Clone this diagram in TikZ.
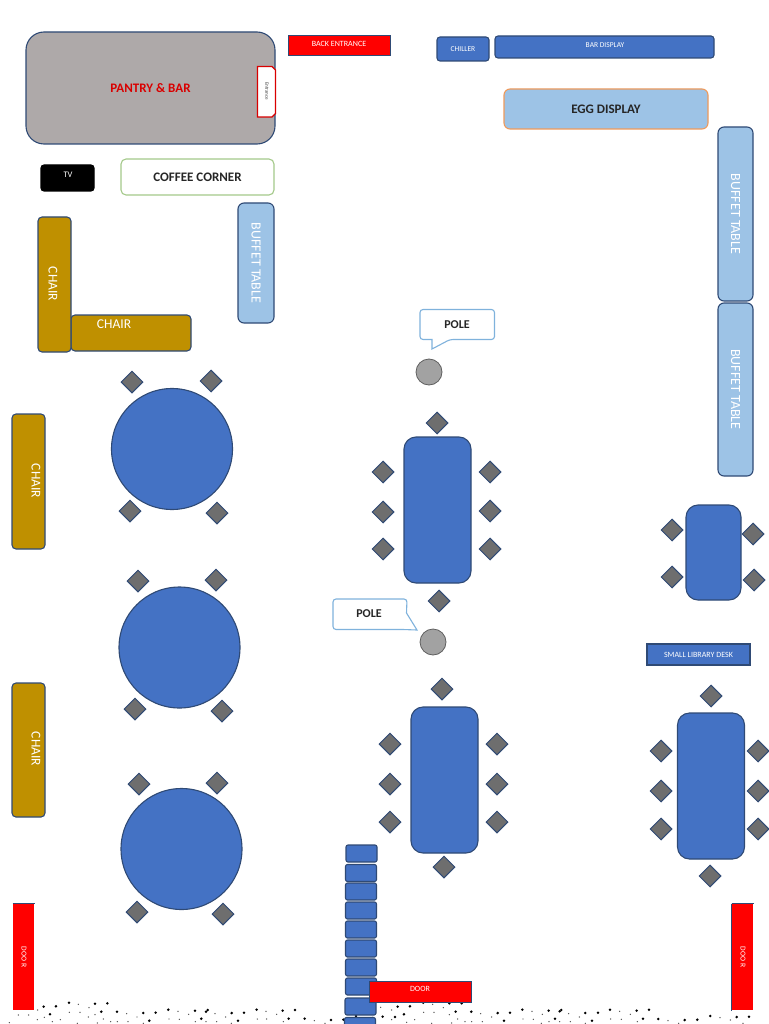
\documentclass[tikz,border=0pt]{standalone}
\usepackage{fontspec}
\setmainfont{Carlito}
\usetikzlibrary{positioning,shapes.geometric}
\definecolor{edgeblue}{HTML}{2F4A75}
\definecolor{tableblue}{HTML}{4472C4}
\definecolor{lightblue}{HTML}{9DC3E6}
\definecolor{callblue}{HTML}{7FB2DC}
\definecolor{chairgold}{HTML}{BF9000}
\definecolor{pantrygrey}{HTML}{AEA9A9}
\definecolor{seatgrey}{HTML}{6E6E6E}
\definecolor{poleedge}{HTML}{5F5F5F}
\definecolor{poleface}{HTML}{A2A2A2}
\definecolor{eggedge}{HTML}{EE9A5C}
\definecolor{coffeeedge}{HTML}{A4C98A}
\tikzset{
  box/.style={draw=edgeblue, line width=1.1pt, inner sep=0pt, align=center, rounded corners=3pt},
  bluebox/.style={box, fill=tableblue, text=white, font=\fontsize{7.5}{9}\selectfont},
  chairbox/.style={box, fill=chairgold, text=white, rounded corners=4pt},
  chairtext/.style={inner sep=0pt, text=white, font=\fontsize{13.5}{15}\selectfont},
  buffetbox/.style={box, fill=lightblue, text=white, rounded corners=6pt, font=\fontsize{14}{16}\selectfont},
  doorbox/.style={draw=edgeblue, line width=1pt, fill=red, inner sep=0pt},
  doortext/.style={inner sep=0pt, text=white, font=\fontsize{7.5}{9}\selectfont},
  roundtable/.style={circle, draw=edgeblue, line width=1.1pt, fill=tableblue, minimum size=121pt, inner sep=0pt},
  longtable/.style={box, fill=tableblue, rounded corners=12pt, minimum width=67pt, minimum height=146pt},
  stepbox/.style={box, fill=tableblue, rounded corners=2pt, minimum width=31pt, minimum height=17pt},
  seat/.style={diamond, draw=edgeblue, line width=1pt, fill=seatgrey, minimum size=22pt, inner sep=0pt},
  pole/.style={circle, draw=poleedge, line width=0.8pt, fill=poleface, minimum size=26pt, inner sep=0pt},
  callout/.style={draw=callblue, line width=1.1pt, fill=white, rounded corners=3pt},
  calltext/.style={font=\fontsize{12}{14}\selectfont\bfseries, text=black!85},
  bigspeck/.style={fill=black},
  smallspeck/.style={fill=black!70},
}
\begin{document}
\begin{tikzpicture}[x=1pt,y=-1pt]
\useasboundingbox (0,0) rectangle (768,1024);
% dots along the bottom edge
\begin{scope}[shift={(0,994)},x=0.3333pt,y=-0.3333pt]
\foreach \a/\b in {131/38,168/37,207/26,285/29,322/28,150/61,304/53,351/53,430/57,467/56,505/47,585/50,618/53,623/48,695/57,732/56,770/47,448/80,604/74,714/80}
  \fill[bigspeck] (\a,\b) circle (1.4pt);
\foreach \a/\b in {235/31,267/41,113/48,55/63,86/63,208/55,240/55,285/62,380/59,411/69,534/52,566/61,645/59,677/69,265/69,133/70,112/77,181/77,310/75,332/83,352/83,384/83,507/75,538/76,586/83,618/83,650/83,28/86,157/83,232/88,292/87,694/88,772/75,430/88}
  \fill[smallspeck] (\a,\b) circle (0.7pt);
\end{scope}
\begin{scope}[shift={(260,994)},x=0.3333pt,y=-0.3333pt]
\foreach \a/\b in {68/50,105/48,86/74,134/74,213/78,250/77,288/66,368/68,405/69,413/38,450/37,490/26,568/28,605/28,432/61,587/53,634/53,713/57,750/56,732/80}
  \fill[bigspeck] (\a,\b) circle (1.4pt);
\foreach \a/\b in {18/52,50/61,20/75,163/80,195/88,70/83,362/40,395/48,518/31,550/41,491/55,522/55,568/62,662/59,695/69,338/70,395/77,464/77,593/75,615/83,635/83,667/83,440/85,515/88,575/87}
  \fill[smallspeck] (\a,\b) circle (0.7pt);
\end{scope}
\begin{scope}[shift={(508,994)},x=0.3333pt,y=-0.3333pt]
\foreach \a/\b in {43/47,122/50,155/52,160/48,232/57,270/56,306/47,386/50,423/47,141/74,252/80,405/74,451/75,530/78,568/77,607/66,686/69,723/68}
  \fill[bigspeck] (\a,\b) circle (1.4pt);
\foreach \a/\b in {72/52,103/61,182/59,214/69,335/52,367/61,45/75,76/76,123/83,155/83,187/83,308/75,340/76,388/83,100/88,232/88,480/80,512/88,636/71,667/78,705/88}
  \fill[smallspeck] (\a,\b) circle (0.7pt);
\end{scope}
% pantry with its entrance
\node[box, fill=pantrygrey, rounded corners=18pt, minimum width=249pt, minimum height=112pt, text=red!85!black, font=\fontsize{13}{15}\selectfont\bfseries] (pantry) at (150.5,88) {PANTRY \& BAR};
\draw[draw=red!85!black, line width=1.1pt, fill=white] (257.5,66.5) -- (272,66.5) -- (275.5,70) -- (275.5,113.5) -- (272,117) -- (257.5,117) -- cycle;
\node[rotate=-90, inner sep=0pt, text=black!75, font=\fontsize{5}{6}\selectfont] (entrance) at (267,91) {Entrance};
% top row
\node[doorbox, minimum width=102pt, minimum height=20pt] (backdoor) at (339,45.5) {};
\node[doortext, font=\fontsize{8}{9}\selectfont] (backtext) at (339,44) {BACK ENTRANCE};
\node[bluebox, minimum width=52pt, minimum height=24pt] (chiller) at (463,49) {CHILLER};
\node[bluebox, minimum width=219pt, minimum height=22pt] (bardisplay) at (604.5,47) {};
\node[doortext] (bartext) at (605,45) {BAR DISPLAY};
\node[box, draw=eggedge, fill=lightblue, rounded corners=6pt, minimum width=204pt, minimum height=40pt, text=black!85, font=\fontsize{13}{15}\selectfont\bfseries] (egg) at (606,109) {EGG DISPLAY};
% buffet tables
\node[buffetbox, rotate=-90, minimum width=174pt, minimum height=35pt] (buffet1) at (735.5,214) {BUFFET TABLE};
\node[buffetbox, rotate=-90, minimum width=173pt, minimum height=35pt] (buffet2) at (735.5,389.5) {BUFFET TABLE};
\node[buffetbox, rotate=-90, minimum width=120pt, minimum height=36pt] (buffet3) at (256,263) {BUFFET TABLE};
% tv and coffee
\node[box, draw=black, fill=black, minimum width=53pt, minimum height=26pt] (tv) at (67.5,178) {};
\node[doortext, font=\fontsize{8.5}{10}\selectfont] (tvtext) at (68,175) {TV};
\node[box, draw=coffeeedge, fill=white, rounded corners=5pt, minimum width=153pt, minimum height=36pt, text=black!85, font=\fontsize{13}{15}\selectfont\bfseries] (coffee) at (197.5,177) {COFFEE CORNER};
% chairs
\node[chairbox, minimum width=120pt, minimum height=36pt] (chair1) at (131,333) {};
\node[chairtext] (chair1text) at (114,324.5) {CHAIR};
\node[chairbox, rotate=-90, minimum width=135pt, minimum height=33pt] (chair2) at (54.5,284.5) {};
\node[chairtext, rotate=-90] (chair2text) at (53,284) {CHAIR};
\node[chairbox, rotate=-90, minimum width=135pt, minimum height=33pt] (chair3) at (28.5,481.5) {};
\node[chairtext, rotate=-90] (chair3text) at (36,481) {CHAIR};
\node[chairbox, rotate=-90, minimum width=134pt, minimum height=33pt] (chair4) at (28.5,750) {};
\node[chairtext, rotate=-90] (chair4text) at (36,749) {CHAIR};
% round table 1
\node[roundtable] (rt1) at (172,449) {};
\node[seat] (rt1a) at (132,382) {};
\node[seat] (rt1b) at (211,381) {};
\node[seat] (rt1c) at (130,511) {};
\node[seat] (rt1d) at (217,513) {};
% round table 2
\node[roundtable] (rt2) at (179.5,647.5) {};
\node[seat] (rt2a) at (138,581) {};
\node[seat] (rt2b) at (216,580) {};
\node[seat] (rt2c) at (135,709) {};
\node[seat] (rt2d) at (222,711) {};
% round table 3
\node[roundtable] (rt3) at (181.5,849) {};
\node[seat] (rt3a) at (139,784) {};
\node[seat] (rt3b) at (217,783) {};
\node[seat] (rt3c) at (137,912) {};
\node[seat] (rt3d) at (223,914) {};
% long table 1
\node[longtable] (lt1) at (437.5,510) {};
\node[seat] (lt1a) at (437,423) {};
\node[seat] (lt1b) at (383,472) {};
\node[seat] (lt1c) at (383,512) {};
\node[seat] (lt1d) at (383,549) {};
\node[seat] (lt1e) at (490,472) {};
\node[seat] (lt1f) at (490,511) {};
\node[seat] (lt1g) at (490,549) {};
\node[seat] (lt1h) at (439,601) {};
% long table 2
\node[longtable] (lt2) at (444.5,780) {};
\node[seat] (lt2a) at (442,689) {};
\node[seat] (lt2b) at (390,744) {};
\node[seat] (lt2c) at (390,784) {};
\node[seat] (lt2d) at (390,822) {};
\node[seat] (lt2e) at (497,744) {};
\node[seat] (lt2f) at (497,784) {};
\node[seat] (lt2g) at (497,822) {};
\node[seat] (lt2h) at (444,867) {};
% long table 3
\node[longtable] (lt3) at (711,786) {};
\node[seat] (lt3a) at (711,696) {};
\node[seat] (lt3b) at (661,751) {};
\node[seat] (lt3c) at (661,791) {};
\node[seat] (lt3d) at (661,829) {};
\node[seat] (lt3e) at (758,751) {};
\node[seat] (lt3f) at (758,791) {};
\node[seat] (lt3g) at (758,829) {};
\node[seat] (lt3h) at (710,876) {};
% small table on the right
\node[longtable, minimum width=55pt, minimum height=95pt] (st) at (713.5,552.5) {};
\node[seat] (sta) at (672,530) {};
\node[seat] (stb) at (672,577) {};
\node[seat] (stc) at (753,534) {};
\node[seat] (std) at (754,580) {};
\node[bluebox, rounded corners=0pt, minimum width=103pt, minimum height=21pt, font=\fontsize{8}{9}\selectfont] (library) at (698.5,654.5) {SMALL LIBRARY DESK};
% poles with their callouts
\node[pole] (pole1) at (429,372) {};
\node[pole] (pole2) at (433,642) {};
\draw[callout] (420,309.5) -- (494.5,309.5) -- (494.5,339.5) -- (450,339.5) [sharp corners] -- (432,349) -- (432,339.5) [rounded corners=3pt] -- (420,339.5) -- cycle;
\node[calltext, inner sep=0pt] (pole1text) at (457,325) {POLE};
\draw[callout] (333,599) -- (407,599) [sharp corners] -- (406.5,613) -- (417,630) -- (403,629.5) [rounded corners=3pt] -- (333,629.5) -- cycle;
\node[calltext, inner sep=0pt] (pole2text) at (369,614) {POLE};
% steps
\node[stepbox] (s1) at (361.5,853.5) {};
\node[stepbox] (s2) at (361,873) {};
\node[stepbox] (s3) at (361,891.5) {};
\node[stepbox] (s4) at (361,910.5) {};
\node[stepbox] (s5) at (361,929.5) {};
\node[stepbox] (s6) at (361,948.5) {};
\node[stepbox] (s7) at (361,967.5) {};
\node[stepbox] (s8) at (361,986.5) {};
\node[stepbox] (s9) at (360.5,1006.5) {};
\node[stepbox] (s10) at (360,1026) {};
% doors
\node[doorbox, minimum width=102pt, minimum height=21pt] (door1) at (420,991.5) {};
\node[doortext, font=\fontsize{8}{9}\selectfont] (door1text) at (420,989) {DOOR};
\node[doorbox, draw=none, minimum width=21pt, minimum height=106pt] (door2) at (23.5,957) {};
\node[doortext, rotate=-90] (door2text) at (24,957) {DOO R};
\draw[edgeblue, line width=1.2pt] (door2.north west) -- (door2.north east);
\node[doorbox, draw=none, minimum width=21pt, minimum height=106pt] (door3) at (742.5,957) {};
\node[doortext, rotate=-90] (door3text) at (743,957) {DOO R};
\draw[edgeblue, line width=1.2pt] (door3.north west) -- (door3.north east);
\draw[edgeblue, line width=1.2pt] (door3.north west) -- (door3.south west);
\end{tikzpicture}
\end{document}
